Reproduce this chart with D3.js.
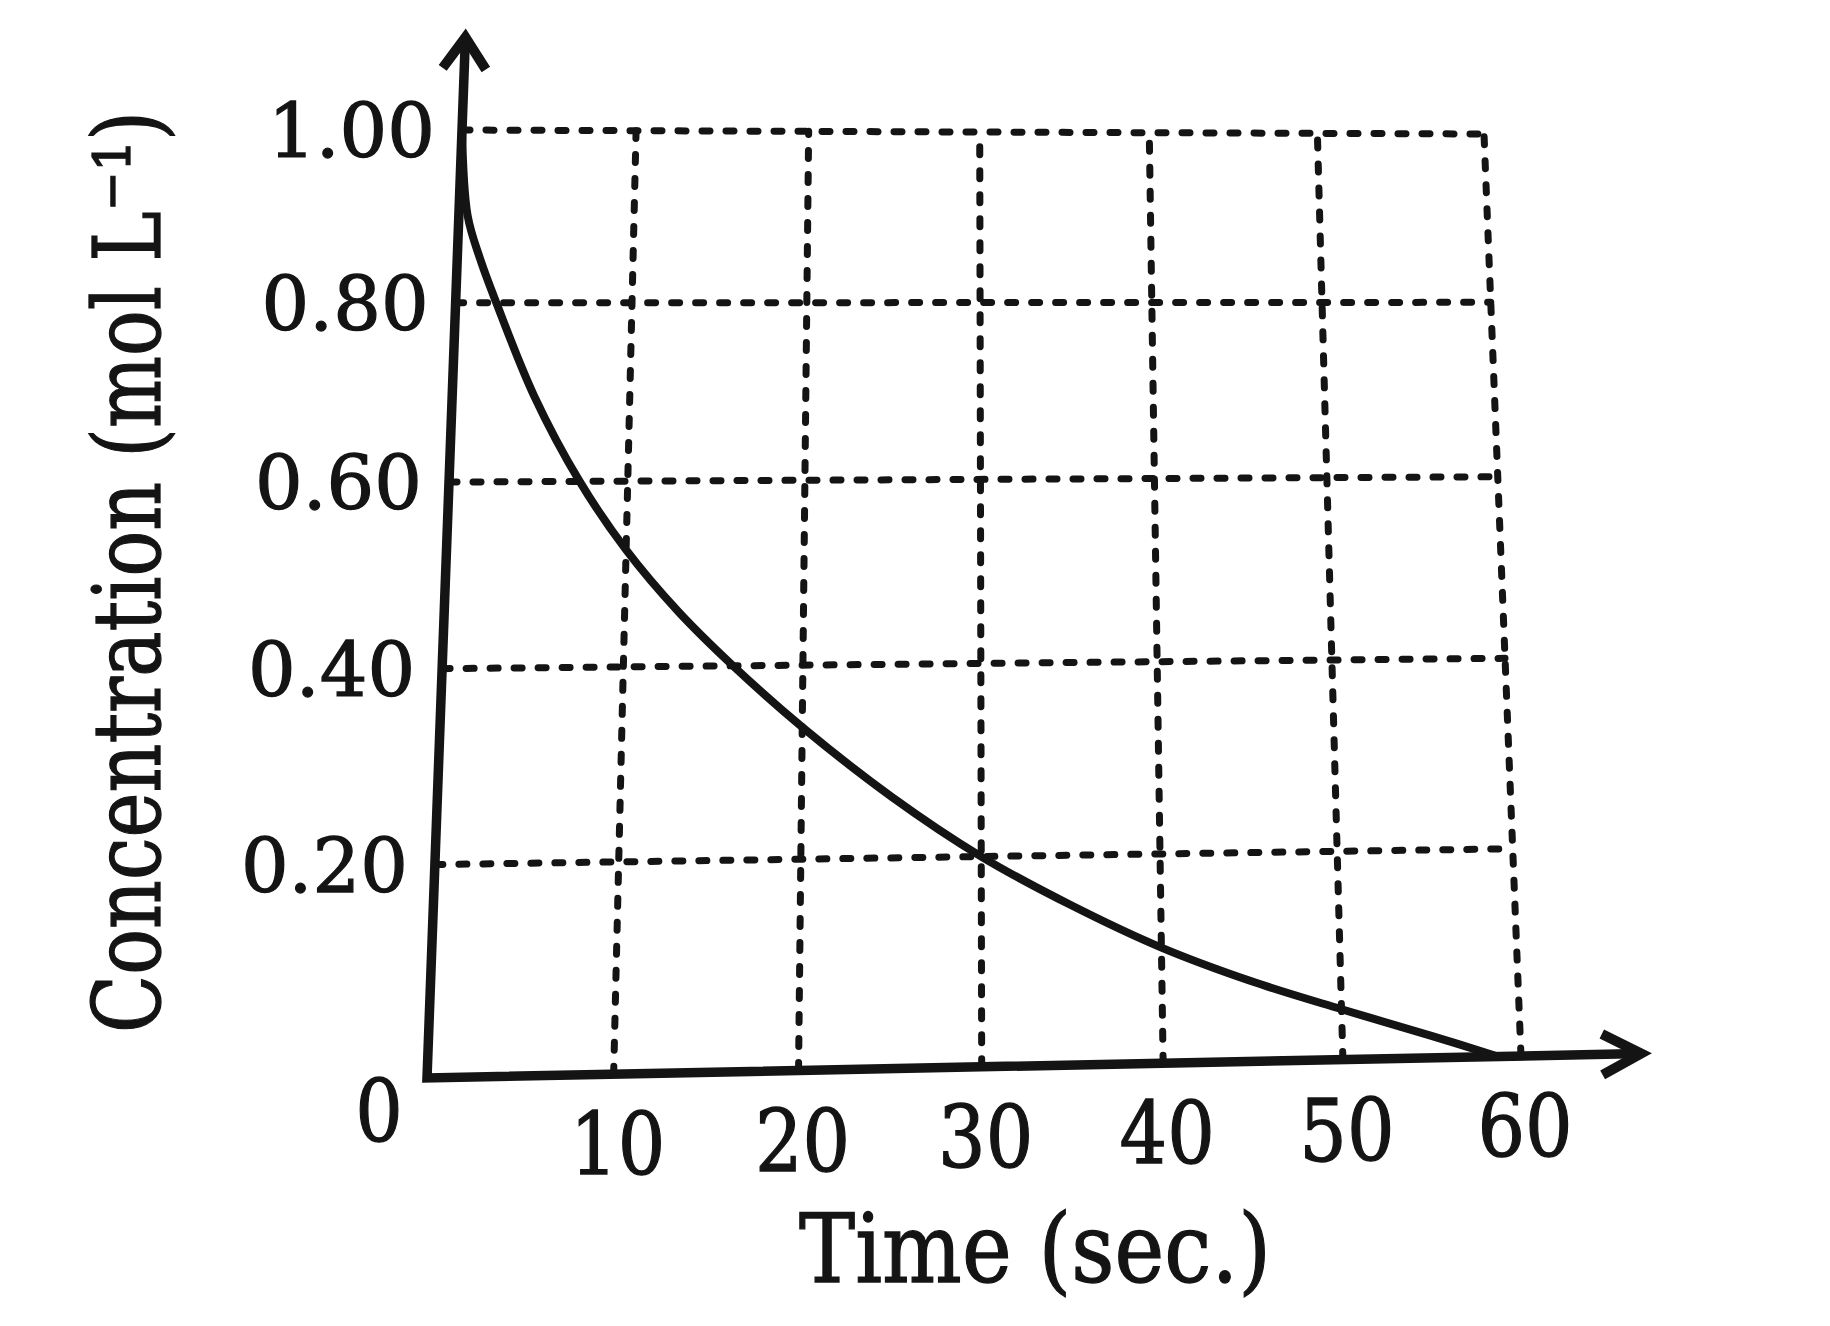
<!DOCTYPE html>
<html>
<head>
<meta charset="utf-8">
<script src="https://cdn.jsdelivr.net/npm/d3@7"></script>
<style>
  html, body { margin: 0; padding: 0; background: #fff; }
  svg { display: block; }
  text { font-family: 'DejaVu Serif', serif; fill: #141414; stroke: #141414; stroke-width: 1.3px; }
</style>
</head>
<body>
<svg id="chart"></svg>
<script>
// values
const times = [0, 0.5, 1.3, 2.3, 4.6, 7.3, 10, 13, 16.1, 20, 25, 30, 35, 40, 45, 50, 55, 58.7]
const concentration = [1.0, 0.90, 0.85, 0.80, 0.695, 0.60, 0.525, 0.458, 0.40, 0.335, 0.262, 0.20, 0.150, 0.107, 0.073, 0.045, 0.019, 0.0]
const xTicks = [10, 20, 30, 40, 50, 60]
const yTicks = [0.2, 0.4, 0.6, 0.8, 1.0]
const originLabel = '0'
const xTitle = 'Time (sec.)'
const yTitle = 'Concentration (mol L⁻¹)'

const width = 1830, height = 1326
const ink = '#141414'

let svg = d3.select('#chart')
	.attr('width', width)
	.attr('height', height)
	.style('background-color', '#fff')

// scales map into a unit square; a homography then puts that square on the
// photographed (slightly tilted) frame: (0,0) (60,0) (60,1) (0,1)
let x = d3.scaleLinear().domain([0, 60]).range([0, 1])
let y = d3.scalePow().exponent(0.96).domain([0, 1]).range([0, 1])
const frame = [[427, 1078], [1521, 1056], [1484, 134], [462, 130]]

function homography(q) {
	let [[x0, y0], [x1, y1], [x2, y2], [x3, y3]] = q
	let dx1 = x1 - x2, dx2 = x3 - x2, dx3 = x0 - x1 + x2 - x3
	let dy1 = y1 - y2, dy2 = y3 - y2, dy3 = y0 - y1 + y2 - y3
	let den = dx1 * dy2 - dx2 * dy1
	let g = (dx3 * dy2 - dx2 * dy3) / den
	let h = (dx1 * dy3 - dx3 * dy1) / den
	let a = x1 - x0 + g * x1, b = x3 - x0 + h * x3, c = x0
	let d = y1 - y0 + g * y1, e = y3 - y0 + h * y3, f = y0
	return (u, v) => {
		let w = g * u + h * v + 1
		return [(a * u + b * v + c) / w, (d * u + e * v + f) / w]
	}
}
const warp = homography(frame)
const P = (t, c) => warp(x(t), y(c))

// dashed grid
let grid = svg.append('g')
	.attr('fill', 'none')
	.attr('stroke', ink)
	.attr('stroke-width', 7)
	.attr('stroke-linecap', 'round')
	.attr('stroke-dasharray', '8,16')

grid.selectAll('line.h')
	.data(yTicks)
	.join('line')
	.attr('class', 'h')
	.attr('x1', d => P(0, d)[0])
	.attr('y1', d => P(0, d)[1])
	.attr('x2', d => P(60, d)[0])
	.attr('y2', d => P(60, d)[1])

grid.selectAll('line.v')
	.data(xTicks)
	.join('line')
	.attr('class', 'v')
	.attr('x1', d => P(d, 0)[0])
	.attr('y1', d => P(d, 0)[1])
	.attr('x2', d => P(d, 1)[0])
	.attr('y2', d => P(d, 1)[1])

// axes with open arrow heads
const yTip = P(0, 1.11), xTip = P(66.8, 0), origin = P(0, 0)
svg.append('path')
	.attr('d', d3.line()([yTip, origin, xTip]))
	.attr('fill', 'none')
	.attr('stroke', ink)
	.attr('stroke-width', 9.5)
	.attr('stroke-linejoin', 'miter')

function arrowHead(tip, from, len, ang) {
	let a = Math.atan2(tip[1] - from[1], tip[0] - from[0])
	let p1 = [tip[0] - len * Math.cos(a - ang), tip[1] - len * Math.sin(a - ang)]
	let p2 = [tip[0] - len * Math.cos(a + ang), tip[1] - len * Math.sin(a + ang)]
	return d3.line()([p1, tip, p2])
}
svg.append('path')
	.attr('d', arrowHead(yTip, origin, 38, Math.PI / 5.2) + arrowHead(xTip, origin, 44, Math.PI / 6.5))
	.attr('fill', 'none')
	.attr('stroke', ink)
	.attr('stroke-width', 10)
	.attr('stroke-linejoin', 'miter')

// the decay curve
let points = times.map((t, i) => [t, concentration[i]])
svg.append('path')
	.datum(points)
	.attr('d', d3.line()
		.x(d => P(d[0], d[1])[0])
		.y(d => P(d[0], d[1])[1])
		.curve(d3.curveCatmullRom.alpha(0.5)))
	.attr('fill', 'none')
	.attr('stroke', ink)
	.attr('stroke-width', 8)
	.attr('stroke-linecap', 'round')

// tick labels
svg.selectAll('text.ytick')
	.data(yTicks)
	.join('text')
	.attr('class', 'ytick')
	.attr('x', d => P(0, d)[0] - 27)
	.attr('y', d => P(0, d)[1])
	.attr('dy', '0.36em')
	.attr('text-anchor', 'end')
	.style('font-size', '75px')
	.text(d3.format('.2f'))

svg.selectAll('text.xtick')
	.data(xTicks)
	.join('text')
	.attr('class', 'xtick')
	.attr('transform', d => {
		let [px, py] = P(d, 0)
		return `translate(${px + 4},${py + 70}) scale(0.87,1)`
	})
	.attr('dy', '0.36em')
	.attr('text-anchor', 'middle')
	.style('font-size', '86px')
	.text(d => d)

svg.append('text')
	.attr('transform', `translate(${origin[0] - 48},${origin[1] + 33}) scale(0.87,1)`)
	.attr('dy', '0.36em')
	.attr('text-anchor', 'middle')
	.style('font-size', '86px')
	.text(originLabel)

// axis titles, squeezed to the printed lengths
let xt = svg.append('text')
	.attr('text-anchor', 'middle')
	.style('font-size', '95px')
	.text(xTitle)
let sx = 472 / xt.node().getComputedTextLength()
xt.attr('transform', `translate(1035,1282) scale(${sx},1)`)

let yt = svg.append('text')
	.attr('text-anchor', 'middle')
	.style('font-size', '93px')
	.text(yTitle)
let sy = 922 / yt.node().getComputedTextLength()
yt.attr('transform', `translate(160,572) rotate(-90) scale(${sy},1)`)
</script>
</body>
</html>
